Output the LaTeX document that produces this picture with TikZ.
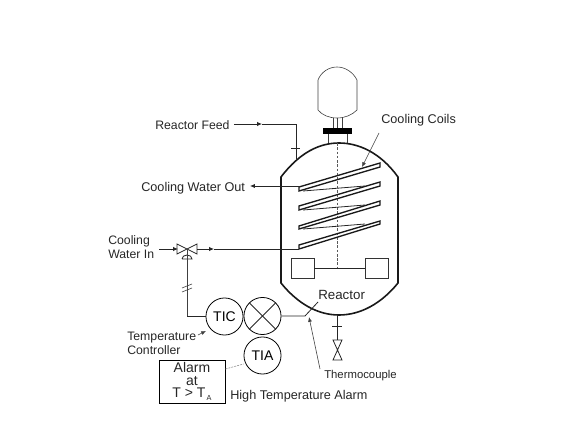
\documentclass[tikz,border=0pt]{standalone}
\usepackage{fontspec}
\setmainfont{Liberation Sans}
\usetikzlibrary{arrows.meta}
\tikzset{
  pipe/.style={draw, line width=0.6pt, black!85},
  thinpipe/.style={draw, line width=0.45pt, black!75},
  wall/.style={draw, line width=1.2pt, black!90},
  flow/.style={pipe, -{Latex[length=3.6pt,width=3.2pt]}},
  leader/.style={thinpipe, -{Latex[length=3.6pt,width=3pt]}},
  instr/.style={circle, draw, line width=0.6pt, minimum size=27.8pt, inner sep=0pt, font=\fontsize{10.5}{11}\selectfont},
  lab/.style={inner sep=0pt, font=\fontsize{9.2}{10.5}\selectfont, text=black!85},
  biglab/.style={lab, font=\fontsize{9.5}{10.5}\selectfont},
  coil/.style={draw, line width=1pt, black!90}
}
\begin{document}
\begin{tikzpicture}[x=0.75pt, y=-0.75pt]
    \useasboundingbox (0,0) rectangle (588,445);

    % Vessel
    \draw[wall] (339,143) .. controls (320,143) and (300,152) .. (281,177) -- (281,283)
        .. controls (298,304) and (318,315) .. (339,315)
        .. controls (360,315) and (381,304) .. (398,283) -- (398,177)
        .. controls (380,152) and (358,143) .. (339,143);

    % Head tank and neck
    \draw[thinpipe] (318,80) .. controls (321,72) and (329,67) .. (337,67)
        .. controls (345,67) and (353,72) .. (357,80) -- (357,110)
        .. controls (352,115) and (345,118) .. (337,118)
        .. controls (329,118) and (322,115) .. (318,110) -- cycle;
    \draw[thinpipe] (333,118) -- (333,128);
    \draw[thinpipe] (337,118) -- (337,128);
    \draw[thinpipe] (342,118) -- (342,128);
    \fill[black] (323,128) rectangle (352,134);
    \draw[thinpipe] (328,134) -- (328,143);
    \draw[thinpipe] (347,134) -- (347,143);

    % Shaft and stirrer
    \draw[draw=black!65, line width=0.4pt, dash pattern=on 2pt off 1.2pt] (337,143) -- (337,268);
    \node[draw, line width=0.5pt, black!80, minimum width=17.2pt, minimum height=15pt, inner sep=0pt] (bladeL) at (302.5,268) {};
    \node[draw, line width=0.5pt, black!80, minimum width=17.2pt, minimum height=15pt, inner sep=0pt] (bladeR) at (377,268) {};
    \draw[pipe] (bladeL) -- (bladeR);

    % Coils
    \draw[coil] (299,187) -- (380,163) -- (380,167) -- (299,191) -- cycle;
    \draw[coil] (299,206) -- (380,182) -- (380,186) -- (299,210) -- cycle;
    \draw[coil] (299,226) -- (380,201) -- (380,205) -- (299,229) -- cycle;
    \draw[coil] (299,245) -- (380,221) -- (380,224) -- (299,249) -- cycle;
    \draw[pipe] (303,191) -- (365,186);
    \draw[pipe] (303,210) -- (365,205);
    \draw[pipe] (303,229) -- (365,224);

    % Reactor feed
    \node[lab, anchor=west] (feed) at (155,125) {Reactor Feed};
    \coordinate (feedmid) at (262,124);
    \coordinate (feedcorner) at (296,124);
    \coordinate (feedin) at (296,159);
    \draw[flow] (feed.east |- feedmid) ++(4,0) -- (feedmid);
    \draw[pipe] (feedmid) -- (feedcorner) -- (feedin);
    \draw[pipe] (291,148) -- (300,148);

    % Cooling water out
    \node[biglab, anchor=west] (waterout) at (141,188) {Cooling Water Out};
    \coordinate (coilout) at (300,186);
    \draw[flow] (coilout) -- (250,186);

    % Cooling coils label
    \node[biglab, anchor=west] (coils) at (381,120) {Cooling Coils};
    \coordinate (coilstart) at (379,133);
    \coordinate (coiltop) at (362,167);
    \draw[leader] (coilstart) -- (coiltop);

    % Cooling water in and valve
    \node[lab, align=left, anchor=west] (waterin) at (108,247.5) {Cooling\\Water In};
    \coordinate (valve) at (187,249);
    \coordinate (inletend) at (159,249);
    \coordinate (watermid) at (214,249);
    \coordinate (coilin) at (299,249);
    \draw[flow] (inletend) -- (178,249);
    \draw[pipe] (177,244) -- (197,254) -- (197,244) -- (177,254) -- cycle;
    \draw[flow] (197,249) -- (watermid);
    \draw[pipe] (watermid) -- (coilin);
    \draw[pipe, fill=white] (182,259) -- (192,259) arc (0:-180:5 and 4);

    % Controller
    \node[instr] (tic) at (224.5,316.5) {TIC};
    \node[instr] (xv) at (262.5,316) {};
    \node[instr] (tia) at (262.5,355.5) {TIA};
    \draw[pipe] (xv.north west) -- (xv.south east);
    \draw[pipe] (xv.north east) -- (xv.south west);
    \coordinate (sigcorner) at (187,316.5);
    \draw[thinpipe] (valve) -- (sigcorner);
    \draw[pipe] (sigcorner) -- (tic.west);
    \draw[thinpipe] (182,288) -- (192,284);
    \draw[thinpipe] (182,292) -- (192,288);

    % Thermocouple
    \coordinate (tcbend) at (305,316);
    \coordinate (tctip) at (318,302);
    \draw[pipe] (xv.east) -- (tcbend) -- (tctip);
    \node[lab, anchor=west, font=\fontsize{8.5}{10}\selectfont] (thermo) at (324,376) {Thermocouple};
    \coordinate (tcstart) at (320,369);
    \coordinate (tcend) at (309,317);
    \draw[leader] (tcstart) -- (tcend);

    % Drain
    \coordinate (drainin) at (337,315);
    \coordinate (drainv) at (337,340);
    \draw[pipe] (drainin) -- (drainv);
    \draw[pipe] (332,326) -- (342,326);
    \draw[pipe] (333,340) -- (342,360) -- (333,360) -- (342,340) -- cycle;

    % Texts
    \node[lab, anchor=west, font=\fontsize{10}{11}\selectfont] (reactor) at (318,295) {Reactor};
    \node[lab, align=left, anchor=west] (tclabel) at (127,343) {Temperature\\Controller};
    \coordinate (tcarrow) at (198,335);
    \draw[leader] (tcarrow) -- (206,331);
    \node[biglab, anchor=west] (hightemp) at (230,396) {High Temperature Alarm};

    % Alarm box
    \node[draw, line width=0.6pt, minimum width=49.5pt, minimum height=32.3pt, inner sep=0pt, align=center,
        font=\fontsize{10.5}{9.5}\selectfont, text=black!85] (alarm) at (192,381.5) {Alarm\\at\\T > T\raisebox{-0.4ex}{\fontsize{5.5}{6}\selectfont\,A}};
    \draw[thinpipe, black!45, dash pattern=on 1.5pt off 0.8pt] (alarm.east |- 0,369) -- (tia.west |- 0,364);
\end{tikzpicture}
\end{document}
